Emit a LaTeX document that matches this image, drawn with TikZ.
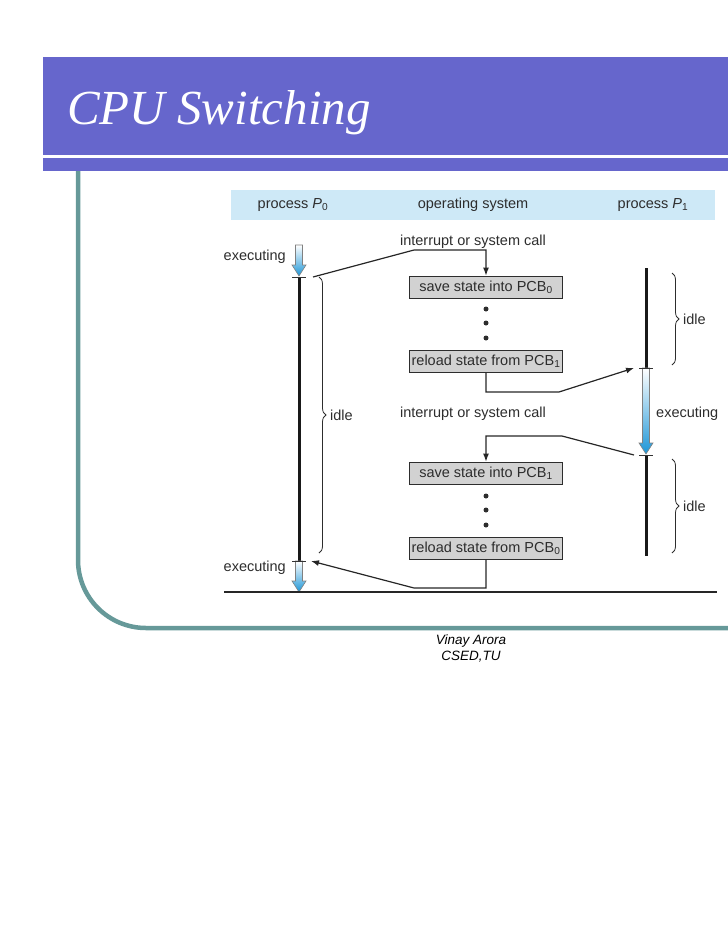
\documentclass[tikz,border=0pt]{standalone}
\usepackage{fontspec}
\setmainfont{Liberation Sans}
\newfontfamily\titlefont{Liberation Serif}
\usepackage{tikz}
\usetikzlibrary{positioning,arrows,arrows.meta,calc,decorations.pathreplacing}
\definecolor{titlepurple}{RGB}{102,102,204}
\definecolor{frameteal}{RGB}{102,153,153}
\definecolor{headblue}{RGB}{206,233,247}
\definecolor{boxgray}{RGB}{210,210,210}
\definecolor{inkgray}{RGB}{45,45,45}
\definecolor{execblue}{RGB}{30,150,215}
\tikzset{
    x=1pt,
    y=-1pt,
    block/.style = {
        draw=inkgray,
        fill=boxgray,
        shape=rectangle,
        minimum width=153,
        minimum height=22,
        inner sep=0pt,
        line width=0.8pt
    },
    txt/.style = {
        text=inkgray,
        inner sep=1pt,
        font=\fontsize{14.5}{16}\selectfont
    },
    dot/.style = {
        shape=circle,
        fill=inkgray,
        minimum size=5,
        inner sep=0pt
    },
    link/.style = {
        draw=black!85,
        line width=1.2pt
    },
    timeline/.style = {
        draw=black!90,
        line width=3pt
    },
    tickmark/.style = {
        draw=black!80,
        line width=0.8pt
    },
    idlebrace/.style = {
        draw=inkgray,
        line width=0.8pt,
        decorate,
        decoration={brace, amplitude=7pt}
    },
    >={Latex[length=8pt,width=6pt]},
}
% blue executing arrow: x, top, tip
\newcommand{\execbar}[3]{%
    \shade[top color=white, bottom color=execblue, draw=gray, line width=0.6pt]
        (#1-3.5,#2) -- (#1+3.5,#2) -- (#1+3.5,#3-11) -- (#1+7,#3-11) -- (#1,#3)
        -- (#1-7,#3-11) -- (#1-3.5,#3-11) -- cycle;
}

\begin{document}
\begin{tikzpicture}
    \useasboundingbox (0,0) rectangle (728,943);

    % slide frame
    \fill[titlepurple] (43,57) rectangle (728,155);
    \fill[titlepurple] (43,158) rectangle (728,171);
    \node[anchor=base west, text=white, inner sep=0pt, font=\titlefont\itshape\fontsize{49}{52}\selectfont] (title) at (67,124) {CPU Switching};
    \draw[frameteal, line width=4.5pt, rounded corners=68] (78,171) |- (730,628);

    % header
    \node[fill=headblue, minimum width=484, minimum height=30, inner sep=0pt] (band) at (473,205) {};
    \node[txt] (hp0) at (293,205) {process \textit{P}\textsubscript{0}};
    \node[txt] (hos) at (473,205) {operating system};
    \node[txt] (hp1) at (653,205) {process \textit{P}\textsubscript{1}};

    % operating system column
    \node[txt] (int0) at (473,242) {interrupt or system call};
    \node[block, txt] (save0) at (486,287) {save state into PCB\textsubscript{0}};
    \node[dot] (d1) at (486,309) {};
    \node[dot] (d2) at (486,323) {};
    \node[dot] (d3) at (486,338) {};
    \node[block, txt] (reload1) at (486,361) {reload state from PCB\textsubscript{1}};
    \node[txt] (int1) at (473,414) {interrupt or system call};
    \node[block, txt] (save1) at (486,473) {save state into PCB\textsubscript{1}};
    \node[dot] (d4) at (486,496) {};
    \node[dot] (d5) at (486,510) {};
    \node[dot] (d6) at (486,525) {};
    \node[block, txt] (reload0) at (486,548) {reload state from PCB\textsubscript{0}};

    % process P0
    \coordinate (p0a) at (299,277);
    \coordinate (p0b) at (299,561);
    \execbar{299}{245}{276}
    \draw[timeline] (p0a) -- (p0b);
    \execbar{299}{561}{592}
    \draw[tickmark] ($(p0a)+(-7,0)$) -- ($(p0a)+(7,0)$);
    \draw[tickmark] ($(p0b)+(-7,0)$) -- ($(p0b)+(7,0)$);
    \node[txt, anchor=east] (ex0) at (287,257) {executing};
    \node[txt, anchor=east] (ex2) at (287,568) {executing};
    \draw[idlebrace] (319,277) -- (319,553);
    \node[txt, anchor=west] (idle0) at (329,415) {idle};

    % process P1
    \coordinate (p1top) at (646,268);
    \coordinate (p1a) at (646,368);
    \coordinate (p1b) at (646,455);
    \coordinate (p1end) at (646,556);
    \draw[timeline] (p1top) -- (p1a);
    \execbar{646}{368}{454}
    \draw[timeline] (p1b) -- (p1end);
    \draw[tickmark] ($(p1a)+(-7,0)$) -- ($(p1a)+(7,0)$);
    \draw[tickmark] ($(p1b)+(-7,0)$) -- ($(p1b)+(7,0)$);
    \node[txt, anchor=west] (ex1) at (655,414) {executing};
    \draw[idlebrace] (672,273) -- (672,365);
    \node[txt, anchor=west] (idle1) at (682,319) {idle};
    \draw[idlebrace] (672,459) -- (672,553);
    \node[txt, anchor=west] (idle2) at (682,506) {idle};

    % connectors
    \coordinate (t0a) at (313,277);
    \coordinate (t1a) at (634,368);
    \coordinate (t1b) at (634,455);
    \coordinate (t0b) at (311,561);
    \path[link, ->] (t0a) -- (414,250) -| (save0.north);
    \path[link, ->] (reload1.south) |- (559,392) -- (t1a);
    \path[link, ->] (t1b) -- (562,436) -| (save1.north);
    \path[link, ->] (reload0.south) |- (414,588) -- (t0b);

    % base line
    \draw[black!85, line width=1.5pt] (224,592) -- (717,592);

    % footer
    \node[font=\itshape\fontsize{13.5}{15}\selectfont, inner sep=0pt] (author) at (471,641) {Vinay Arora};
    \node[font=\itshape\fontsize{13.5}{15}\selectfont, inner sep=0pt] (dept) at (471,657) {CSED,TU};
\end{tikzpicture}
\end{document}
